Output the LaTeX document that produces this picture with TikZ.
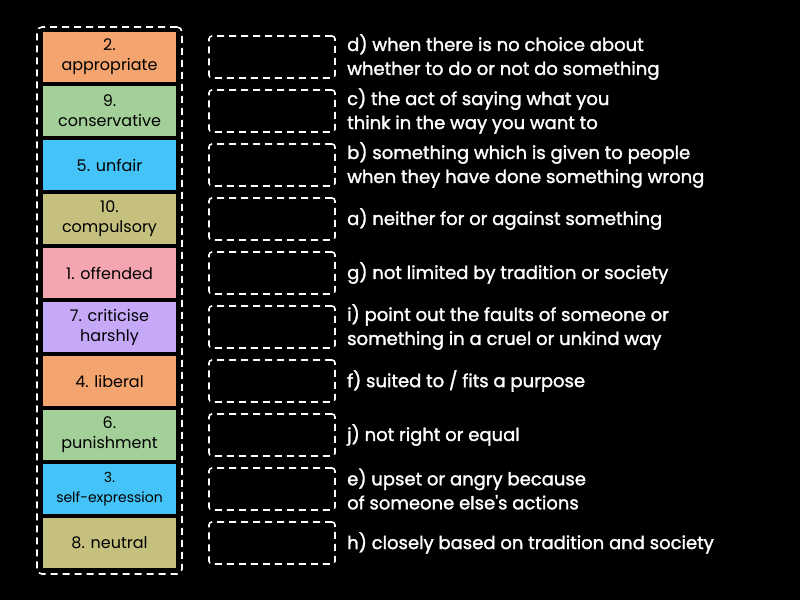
\documentclass[tikz,border=0pt]{standalone}
\usepackage{fontspec}
\setmainfont{Poppins}
\newfontfamily\semib[FakeBold=1.6]{Poppins}
\begin{document}
\begin{tikzpicture}[x=1pt,y=-1pt,
 tile/.style={minimum width=133pt,minimum height=50pt,inner sep=0pt,align=center,text=black,font=\fontsize{16}{20}\selectfont},
 slot/.style={draw=white,dashed,line width=1.6pt,dash pattern=on 7pt off 5pt,rounded corners=3pt,minimum width=126pt,minimum height=42pt},
 def/.style={anchor=west,text=white,align=left,font=\semib\fontsize{18}{24}\selectfont,inner sep=0pt}]
\definecolor{cO}{HTML}{F4A46E}\definecolor{cG}{HTML}{A3CF98}\definecolor{cB}{HTML}{44C3F8}
\definecolor{cY}{HTML}{C6C07E}\definecolor{cP}{HTML}{F4A5B0}\definecolor{cV}{HTML}{C5A8F8}
\fill[black] (0,0) rectangle (800,600);
\node[draw=white,dashed,line width=1.6pt,dash pattern=on 7pt off 5pt,rounded corners=5pt,minimum width=145pt,minimum height=547pt] (box) at (109.5,300.5) {};
\foreach \i/\c/\t/\d in {
0/cO/{2.\\appropriate}/{d) when there is no choice about\\whether to do or not do something},
1/cG/{9.\\conservative}/{c) the act of saying what you\\think in the way you want to},
2/cB/{5. unfair}/{b) something which is given to people\\when they have done something wrong},
3/cY/{10.\\compulsory}/{a) neither for or against something},
4/cP/{1. offended}/{g) not limited by tradition or society},
5/cV/{7. criticise\\harshly}/{i) point out the faults of someone or\\something in a cruel or unkind way},
6/cO/{4. liberal}/{f) suited to / fits a purpose},
7/cG/{6.\\punishment}/{j) not right or equal},
8/cB/{\fontsize{14}{17}\selectfont 3.\\\fontsize{14}{17}\selectfont self-expression}/{e) upset or angry because\\of someone else's actions},
9/cY/{8. neutral}/{h) closely based on tradition and society}}{
 \node[tile,fill=\c] (t\i) at (109.5,57+54*\i) {\t};
 \node[slot] (s\i) at (272,57+54*\i) {};
 \node[def] (d\i) at (347,57+54*\i) {\d};
}
\end{tikzpicture}
\end{document}
